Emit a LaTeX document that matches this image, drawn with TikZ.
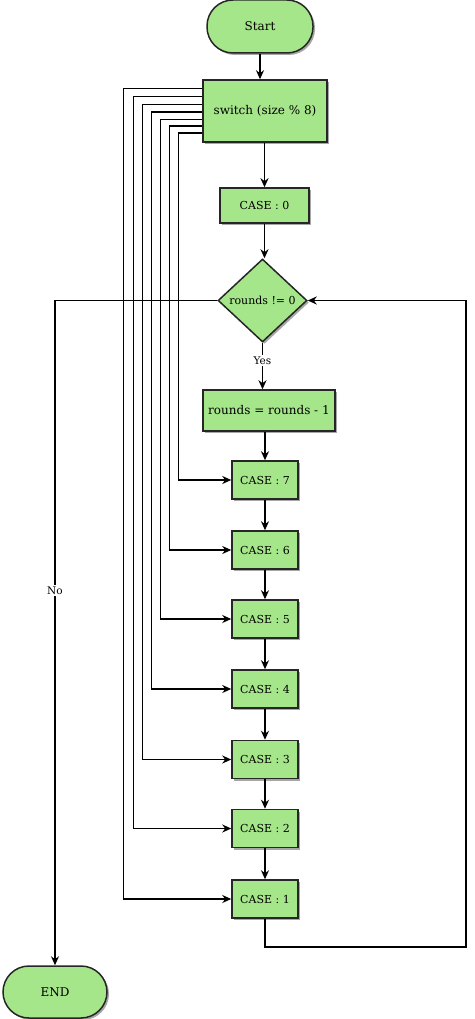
\documentclass[tikz,border=0pt]{standalone}
\usepackage{fontspec}
\setmainfont{DejaVu Serif}
\usetikzlibrary{positioning,shapes.geometric,shadows,arrows.meta}
\definecolor{boxgreen}{RGB}{166,230,138}

\begin{document}
\begin{tikzpicture}[x=1pt,y=-1pt,>={Stealth[length=9pt,width=8pt]},line width=1.9pt,
  shape base/.style={fill=boxgreen,draw=black!85,line width=1.5pt,inner sep=0pt,
    drop shadow={shadow xshift=2pt,shadow yshift=-2pt,opacity=0.35,fill=black}},
  term/.style={shape base,shape=rectangle,rounded corners=26pt,minimum width=106pt,minimum height=53pt,font=\fontsize{12}{14}\selectfont},
  stepbox/.style={shape base,shape=rectangle,font=\fontsize{12}{14}\selectfont},
  casebox/.style={shape base,shape=rectangle,minimum width=66pt,minimum height=38pt,font=\fontsize{11}{13}\selectfont},
  cond/.style={shape base,shape=diamond,aspect=1.07,minimum width=89pt,minimum height=83pt,font=\fontsize{11}{13}\selectfont},
  lbl/.style={fill=white,inner sep=1.5pt,font=\fontsize{10.5}{12}\selectfont},
]
\useasboundingbox (0,0) rectangle (474,1019);

\node[term] (start) at (260,26.5) {Start};
\node[stepbox,minimum width=124pt,minimum height=62pt] (sw) at (265,111) {switch (size \% 8)};
\node[casebox,minimum width=89pt,minimum height=35pt] (c0) at (264.5,205.5) {CASE : 0};
\node[cond] (cnd) at (262.5,300.5) {rounds != 0};
\node[stepbox,minimum width=132pt,minimum height=41pt] (dec) at (269,410.5) {rounds = rounds - 1};
\node[casebox] (c7) at (265,480) {CASE : 7};
\node[casebox] (c6) at (265,550) {CASE : 6};
\node[casebox] (c5) at (265,619) {CASE : 5};
\node[casebox] (c4) at (265,689) {CASE : 4};
\node[casebox] (c3) at (265,759.5) {CASE : 3};
\node[casebox] (c2) at (265,828.5) {CASE : 2};
\node[casebox] (c1) at (265,899) {CASE : 1};
\node[term,minimum width=104pt,minimum height=52pt] (end) at (55,992) {END};

\draw[->] (start) -- (start|-sw.north);
\draw[->] (sw.south-|c0) -- (c0);
\draw[->] (c0) -- (c0|-cnd.north);
\draw[->] (cnd.south) -- node[lbl,pos=0.38]{Yes} (cnd.south|-dec.north);
\draw[->] (dec.south-|c7) -- (c7);
\foreach \a/\b in {c7/c6,c6/c5,c5/c4,c4/c3,c3/c2,c2/c1}
  \draw[->] (\a) -- (\b);

% switch branches
\foreach \c/\x/\y in {c1/123.5/88.5,c2/133.5/96.5,c3/142.5/104.5,c4/151.5/112,c5/160.5/119.5,c6/169.5/126,c7/178.5/133}{
  \coordinate (b\c) at (\x,\y);
  \draw[->] (b\c-|sw.west) -- (b\c) |- (\c.west);
}

% loop back and exit
\coordinate (lp) at (466,947);
\draw[->] (c1) |- (lp) |- (cnd.east);
\draw[->] (cnd.west) -| node[lbl,pos=0.718]{No} (end.north);
\end{tikzpicture}
\end{document}
